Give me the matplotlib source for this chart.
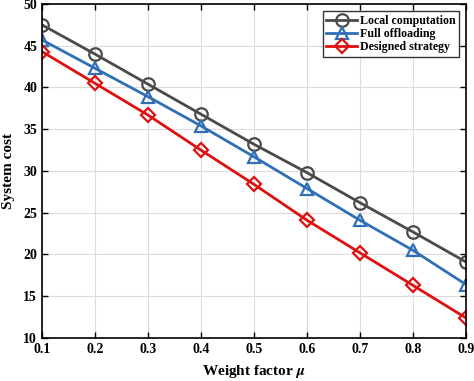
import matplotlib
matplotlib.use("Agg")
import matplotlib.pyplot as plt

weights = [0.1, 0.2, 0.3, 0.4, 0.5, 0.6, 0.7, 0.8, 0.9]
local_cost = [47.5, 44.0, 40.4, 36.8, 33.2, 29.8, 26.2, 22.7, 19.1]
full_cost = [45.7, 42.3, 38.9, 35.4, 31.7, 27.9, 24.1, 20.5, 16.4]
designed_cost = [44.3, 40.5, 36.7, 32.5, 28.4, 24.1, 20.2, 16.3, 12.4]
labels = ["Local computation", "Full offloading", "Designed strategy"]

plt.rcParams['font.family'] = ['Liberation Serif', 'DejaVu Serif']
plt.rcParams['font.weight'] = 'bold'
plt.rcParams['mathtext.fontset'] = 'stix'

fig = plt.figure(figsize=(4.74, 3.81), dpi=100)
ax = fig.add_axes([0.0886, 0.113, 0.8944, 0.8765])

ax.plot(weights, local_cost, color='#4a4a4a', lw=2, marker='o', ms=9,
        mfc='none', mew=1.6, label=labels[0])
ax.plot(weights, full_cost, color='#2f6fb6', lw=2, marker='^', ms=9,
        mfc='none', mew=1.6, label=labels[1])
ax.plot(weights, designed_cost, color='#e01010', lw=2, marker='D', ms=7.5,
        mfc='none', mew=1.6, label=labels[2])

ax.set_xlim(0.1, 0.9)
ax.set_ylim(10, 50)
ax.set_xticks(weights)
ax.set_xticklabels([f"{w:.1f}" for w in weights])
ax.set_yticks(range(10, 51, 5))
ax.grid(True, color='#dcdcdc', lw=0.8)
ax.tick_params(direction='in', top=True, right=True, labelsize=10, length=4, width=1)
for s in ax.spines.values():
    s.set_linewidth(1.2)
for lab in ax.get_xticklabels() + ax.get_yticklabels():
    lab.set_fontweight('bold')

ax.set_xlabel(r"Weight factor $\boldsymbol{\mu}$", fontsize=11, fontweight='bold', labelpad=5)
ax.set_ylabel("System cost", fontsize=11, fontweight='bold', labelpad=6)

leg = ax.legend(loc='upper right', fontsize=8.6, frameon=True, fancybox=False,
                edgecolor='black', handlelength=2.6, borderpad=0.3,
                labelspacing=0.1, handletextpad=0.2, borderaxespad=0.6)
leg.get_frame().set_linewidth(1.0)
for t in leg.get_texts():
    t.set_fontweight('bold')

fig.savefig("out.png", dpi=100)
